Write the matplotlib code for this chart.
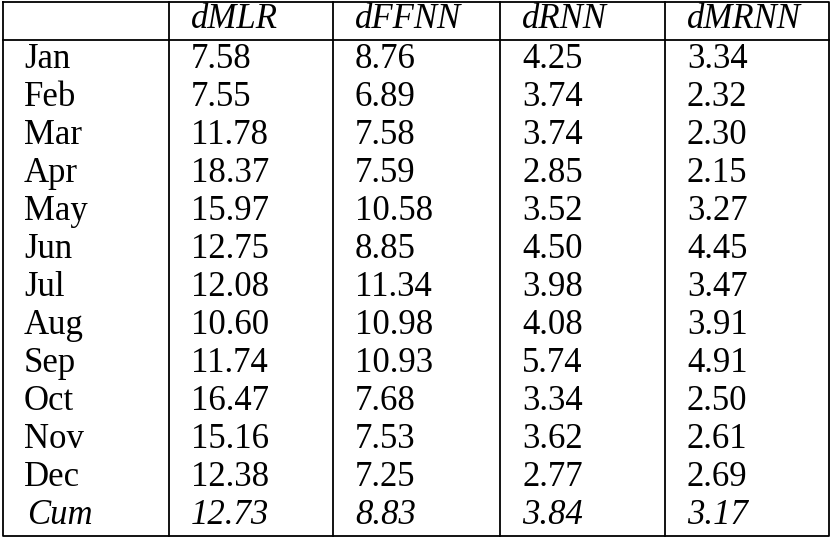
import matplotlib.pyplot as plt

plt.rcParams['font.family'] = ['Liberation Serif', 'DejaVu Serif']

months = ["Jan", "Feb", "Mar", "Apr", "May", "Jun",
          "Jul", "Aug", "Sep", "Oct", "Nov", "Dec"]
models = ["dMLR", "dFFNN", "dRNN", "dMRNN"]

dMLR = ["7.58", "7.55", "11.78", "18.37", "15.97", "12.75",
        "12.08", "10.60", "11.74", "16.47", "15.16", "12.38"]
dFFNN = ["8.76", "6.89", "7.58", "7.59", "10.58", "8.85",
         "11.34", "10.98", "10.93", "7.68", "7.53", "7.25"]
dRNN = ["4.25", "3.74", "3.74", "2.85", "3.52", "4.50",
        "3.98", "4.08", "5.74", "3.34", "3.62", "2.77"]
dMRNN = ["3.34", "2.32", "2.30", "2.15", "3.27", "4.45",
         "3.47", "3.91", "4.91", "2.50", "2.61", "2.69"]
cum = ["12.73", "8.83", "3.84", "3.17"]

# grid in pixel units
col_edges = [3, 169, 333, 500, 665, 829]
top, header_line, bottom = 2, 40, 536
row_h = 38.0
fs = 25
lw = 1.3

fig = plt.figure(figsize=(8.32, 5.4), dpi=100)
ax = fig.add_axes([0, 0, 1, 1])
ax.set_xlim(0, 832)
ax.set_ylim(540, 0)
ax.axis('off')

# borders
ax.plot([col_edges[0], col_edges[-1], col_edges[-1], col_edges[0], col_edges[0]],
        [top, top, bottom, bottom, top], color='black', lw=lw)
ax.plot([col_edges[0], col_edges[-1]], [header_line, header_line], color='black', lw=lw)
for x in col_edges[1:-1]:
    ax.plot([x, x], [top, bottom], color='black', lw=lw)

pad = 22
# header
for j, m in enumerate(models):
    ax.text(col_edges[j + 1] + pad, 28, m, fontsize=fs, style='italic',
            ha='left', va='baseline')

cols = [dMLR, dFFNN, dRNN, dMRNN]
for i, mon in enumerate(months):
    y = 68 + i * row_h
    ax.text(col_edges[0] + 21, y, mon, fontsize=fs, ha='left', va='baseline')
    for j, c in enumerate(cols):
        ax.text(col_edges[j + 1] + pad, y, c[i], fontsize=fs, ha='left', va='baseline')

y = 68 + 12 * row_h
ax.text(col_edges[0] + 24, y, "Cum", fontsize=fs, style='italic', ha='left', va='baseline')
for j, v in enumerate(cum):
    ax.text(col_edges[j + 1] + pad, y, v, fontsize=fs, style='italic',
            ha='left', va='baseline')

fig.savefig("out.png", dpi=100)
